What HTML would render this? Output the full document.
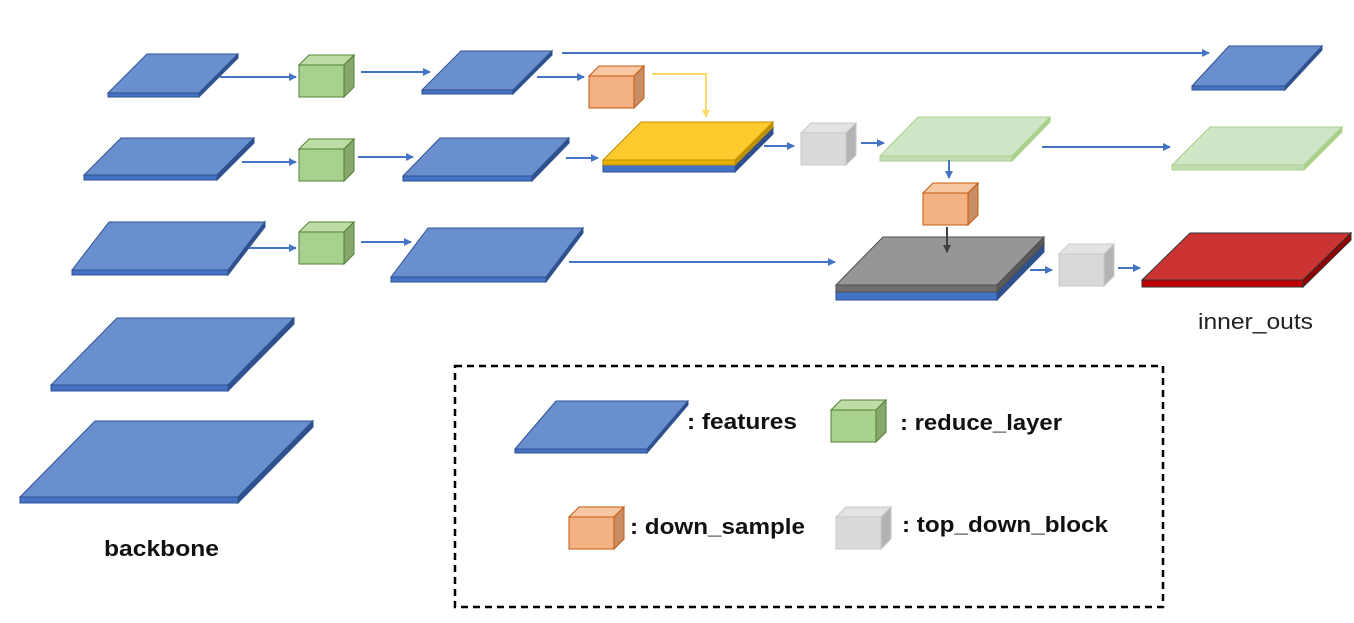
<!DOCTYPE html>
<html><head><meta charset="utf-8"><style>
html,body{margin:0;padding:0;background:#fff;}
svg{display:block;}
text{font-family:"Liberation Sans",sans-serif;}
</style></head><body>
<svg id="s" width="1354" height="623" viewBox="0 0 1354 623" xmlns="http://www.w3.org/2000/svg">
<defs>
<marker id="ab" markerWidth="8" markerHeight="8" refX="7" refY="4" orient="auto" markerUnits="userSpaceOnUse"><path d="M0,0 L8,4 L0,8 z" fill="#4472c4"/></marker>
<marker id="ay" markerWidth="8" markerHeight="8" refX="7" refY="4" orient="auto" markerUnits="userSpaceOnUse"><path d="M0,0 L8,4 L0,8 z" fill="#ffd966"/></marker>
<marker id="ad" markerWidth="8" markerHeight="8" refX="7" refY="4" orient="auto" markerUnits="userSpaceOnUse"><path d="M0,0 L8,4 L0,8 z" fill="#404040"/></marker>
</defs>
<g id="g"></g>
<rect x="455" y="366" width="708" height="241" fill="none" stroke="#000" stroke-width="2.5" stroke-dasharray="7,5"/>
<text x="1198" y="329" font-size="22" textLength="115" lengthAdjust="spacingAndGlyphs" fill="#222">inner_outs</text>
<text x="104" y="556" font-size="22" font-weight="bold" textLength="115" lengthAdjust="spacingAndGlyphs" fill="#111">backbone</text>
<text x="687" y="429" font-size="22" font-weight="bold" textLength="110" lengthAdjust="spacingAndGlyphs" fill="#111">: features</text>
<text x="900" y="430" font-size="22" font-weight="bold" textLength="162" lengthAdjust="spacingAndGlyphs" fill="#111">: reduce_layer</text>
<text x="630" y="534" font-size="22" font-weight="bold" textLength="175" lengthAdjust="spacingAndGlyphs" fill="#111">: down_sample</text>
<text x="902" y="532" font-size="22" font-weight="bold" textLength="206" lengthAdjust="spacingAndGlyphs" fill="#111">: top_down_block</text>
</svg>
<script>
var g=document.getElementById('g'),h='';
function slab(x0,x1,yb,yt,d,t,top,front,side,st){
 h+='<path d="M'+x0+','+yb+' L'+(x0+d)+','+yt+' L'+(x1+d)+','+yt+' L'+x1+','+yb+' Z" fill="'+top+'" stroke="'+st+'" stroke-width="1"/>';
 h+='<rect x="'+x0+'" y="'+yb+'" width="'+(x1-x0)+'" height="'+t+'" fill="'+front+'" stroke="'+st+'" stroke-width="1"/>';
 h+='<path d="M'+x1+','+yb+' L'+(x1+d)+','+yt+' L'+(x1+d)+','+(yt+t)+' L'+x1+','+(yb+t)+' Z" fill="'+side+'" stroke="'+st+'" stroke-width="1"/>';
}
function blue(x0,x1,yb,yt,d,t){slab(x0,x1,yb,yt,d,t,'#6a8fcf','#4472c4','#2f528f','#2f528f');}
function cube(x,y,w,hh,dd,f,tp,sd,st){
 h+='<path d="M'+x+','+y+' L'+(x+dd)+','+(y-dd)+' L'+(x+w+dd)+','+(y-dd)+' L'+(x+w)+','+y+' Z" fill="'+tp+'" stroke="'+st+'"/>';
 h+='<path d="M'+(x+w)+','+y+' L'+(x+w+dd)+','+(y-dd)+' L'+(x+w+dd)+','+(y+hh-dd)+' L'+(x+w)+','+(y+hh)+' Z" fill="'+sd+'" stroke="'+st+'"/>';
 h+='<rect x="'+x+'" y="'+y+'" width="'+w+'" height="'+hh+'" fill="'+f+'" stroke="'+st+'"/>';
}
function gc(x,y){cube(x,y,45,32,10,'#a9d18e','#bedca5','#86a86c','#538135');}
function oc(x,y){cube(x,y,45,32,10,'#f4b183','#f7c6a2','#c88d65','#c55a11');}
function wc(x,y){cube(x,y,45,32,10,'#d9d9d9','#e3e3e3','#b3b3b3','#c9c9c9');}
function ar(x1,y1,x2,y2,m,c){h+='<line x1="'+x1+'" y1="'+y1+'" x2="'+x2+'" y2="'+y2+'" stroke="'+c+'" stroke-width="2" marker-end="url(#'+m+')"/>';}
blue(108,199,93,54,39,4);
blue(84,217,175,138,37,5);
blue(72,228,270,222,37,5);
blue(51,228,385,318,66,6);
blue(20,238,497,421,75,6);
blue(422,513,90,51,39,4);
blue(403,532,176,138,37,5);
blue(391,546,277,228,37,5);
blue(1192,1285,86,46,37,4);
blue(603,735,165,127,38,7);
slab(603,735,160,122,38,5,'#ffca2e','#e8b000','#c09000','#bf9000');
slab(880,1012,156,117,38,5,'#d0e5c5','#c2dcb2','#a9d18e','#a9d18e');
slab(1172,1304,165,127,38,5,'#d0e5c5','#c2dcb2','#a9d18e','#a9d18e');
blue(836,997,292,244,47,8);
slab(836,997,285,237,47,7,'#969696','#6e6e6e','#5a5a5a','#505050');
slab(1142,1303,280,233,48,7,'#cc3333','#c00000','#900000','#333');
blue(515,647,449,401,41,4);
gc(299,65);gc(299,149);gc(299,232);
oc(589,76);wc(801,133);oc(923,193);wc(1059,254);
gc(831,410);oc(569,517);wc(836,517);
ar(220,77,296,77,'ab','#4472c4');ar(361,72,430,72,'ab','#4472c4');ar(537,77,584,77,'ab','#4472c4');ar(562,53,1209,53,'ab','#4472c4');
h+='<polyline points="652,74 706,74 706,117" fill="none" stroke="#ffd966" stroke-width="2" marker-end="url(#ay)"/>';
ar(242,162,296,162,'ab','#4472c4');ar(358,157,413,157,'ab','#4472c4');ar(566,158,598,158,'ab','#4472c4');
ar(764,146,794,146,'ab','#4472c4');ar(861,143,884,143,'ab','#4472c4');ar(1042,147,1170,147,'ab','#4472c4');
ar(949,160,949,178,'ab','#4472c4');ar(947,227,947,252,'ad','#404040');
ar(249,248,296,248,'ab','#4472c4');ar(361,242,411,242,'ab','#4472c4');ar(569,262,835,262,'ab','#4472c4');
ar(1030,270,1052,270,'ab','#4472c4');ar(1118,268,1140,268,'ab','#4472c4');
g.innerHTML=h;
</script>
</body></html>
